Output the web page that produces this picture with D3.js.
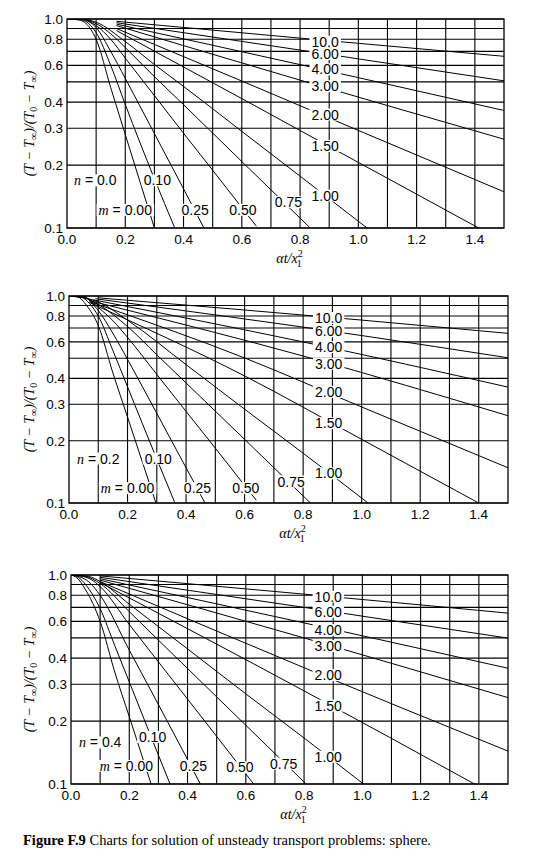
<!DOCTYPE html>
<html><head><meta charset="utf-8">
<script src="https://cdn.jsdelivr.net/npm/d3@7"></script>
<style>body{margin:0;background:#fff}</style></head>
<body><svg id="c" width="553" height="868"></svg>
<script>
const xTicks=[0,0.2,0.4,0.6,0.8,1.0,1.2,1.4];
const yTicks=[1.0,0.8,0.6,0.4,0.3,0.2,0.1];
const yGrid=[0.1,0.2,0.3,0.4,0.5,0.6,0.7,0.8,0.9,1.0];
const mValues=["0.00","0.10","0.25","0.50","0.75","1.00","1.50","2.00","3.00","4.00","6.00","10.0"];
const nValues=["0.0","0.2","0.4"];
// curves per panel: points [x,y] in the same order as mValues
const curvesN0=[
 [[0,1],[0.04,0.99],[0.08,0.9],[0.1,0.8],[0.15,0.47],[0.2,0.28],[0.3,0.1]],
 [[0,1],[0.05,0.99],[0.1,0.86],[0.15,0.6],[0.2,0.39],[0.3,0.172],[0.37,0.1]],
 [[0,1],[0.05,0.995],[0.1,0.91],[0.15,0.7],[0.2,0.52],[0.3,0.283],[0.4,0.154],[0.47,0.1]],
 [[0,1],[0.05,0.997],[0.1,0.93],[0.15,0.8],[0.2,0.65],[0.3,0.43],[0.4,0.284],[0.5,0.189],[0.65,0.102]],
 [[0,1],[0.05,0.998],[0.1,0.95],[0.15,0.85],[0.2,0.73],[0.3,0.53],[0.4,0.389],[0.6,0.208],[0.835,0.1]],
 [[0,1],[0.05,0.999],[0.1,0.965],[0.2,0.78],[0.3,0.606],[0.4,0.476],[0.6,0.29],[0.8,0.177],[1.03,0.1]],
 [[0.17,0.88],[0.6,0.416],[1.0,0.206],[1.413,0.1]],
 [[0.17,0.90],[0.6,0.505],[1.0,0.293],[1.5,0.149]],
 [[0.17,0.93],[0.8,0.51],[1.5,0.266]],
 [[0.17,0.945],[0.8,0.605],[1.5,0.365]],
 [[0.17,0.96],[0.8,0.71],[1.5,0.506]],
 [[0.17,0.975],[0.8,0.81],[1.5,0.663]]];
const curvesN02=[
 [[0,1],[0.03,0.99],[0.06,0.9],[0.1,0.72],[0.15,0.425],[0.2,0.26],[0.297,0.1]],
 [[0,1],[0.04,0.99],[0.07,0.92],[0.1,0.8],[0.15,0.545],[0.2,0.364],[0.3,0.163],[0.362,0.1]],
 [[0,1],[0.05,0.99],[0.1,0.85],[0.15,0.66],[0.2,0.494],[0.3,0.271],[0.4,0.148],[0.465,0.1]],
 [[0,1],[0.05,0.992],[0.1,0.88],[0.15,0.76],[0.2,0.631],[0.3,0.418],[0.4,0.277],[0.5,0.184],[0.64,0.103]],
 [[0,1],[0.06,0.97],[0.1,0.91],[0.2,0.712],[0.3,0.52],[0.4,0.38],[0.6,0.203],[0.825,0.1]],
 [[0,1],[0.06,0.975],[0.1,0.935],[0.2,0.764],[0.4,0.466],[0.6,0.284],[0.8,0.174],[1.022,0.1]],
 [[0.07,0.93],[0.6,0.411],[1.0,0.203],[1.4,0.1]],
 [[0.07,0.94],[0.6,0.502],[1.0,0.291],[1.5,0.148]],
 [[0.07,0.95],[0.8,0.513],[1.5,0.264]],
 [[0.08,0.96],[0.8,0.6],[1.5,0.363]],
 [[0.09,0.97],[1.0,0.644],[1.5,0.503]],
 [[0.1,0.98],[1.0,0.765],[1.5,0.66]]];
const curvesN04=[
 [[0,1],[0.02,0.97],[0.05,0.85],[0.1,0.6],[0.15,0.344],[0.2,0.21],[0.275,0.1]],
 [[0,1],[0.025,0.975],[0.05,0.9],[0.1,0.69],[0.15,0.46],[0.2,0.308],[0.3,0.1375],[0.34,0.1]],
 [[0,1],[0.03,0.98],[0.06,0.93],[0.1,0.8],[0.2,0.437],[0.3,0.24],[0.4,0.131],[0.444,0.1]],
 [[0,1],[0.04,0.985],[0.07,0.95],[0.1,0.88],[0.2,0.58],[0.3,0.384],[0.4,0.255],[0.5,0.169],[0.627,0.1]],
 [[0,1],[0.05,0.985],[0.1,0.91],[0.2,0.668],[0.3,0.488],[0.4,0.357],[0.6,0.191],[0.807,0.1]],
 [[0,1],[0.06,0.985],[0.1,0.93],[0.2,0.725],[0.4,0.443],[0.6,0.27],[0.8,0.166],[1.004,0.1]],
 [[0.1,0.92],[0.8,0.279],[1.385,0.1]],
 [[0.1,0.93],[0.8,0.36],[1.5,0.1437]],
 [[0.1,0.945],[0.8,0.5],[1.5,0.259]],
 [[0.1,0.96],[0.8,0.59],[1.5,0.358]],
 [[0.1,0.975],[0.8,0.70],[1.5,0.499]],
 [[0.1,0.99],[0.8,0.81],[1.5,0.657]]];
// label anchors [x,y] (data coords) in mValues order, then n-label
const labelsN0=[[0.20,0.122],[0.31,0.169],[0.44,0.122],[0.604,0.122],[0.76,0.133],[0.886,0.143],[0.886,0.247],[0.886,0.349],[0.886,0.477],[0.886,0.574],[0.886,0.68],[0.886,0.779],[0.097,0.169]];
const labelsN02=[[0.20,0.118],[0.305,0.164],[0.439,0.118],[0.604,0.118],[0.759,0.127],[0.887,0.139],[0.887,0.243],[0.887,0.344],[0.887,0.471],[0.887,0.567],[0.887,0.675],[0.887,0.783],[0.10,0.164]];
const labelsN04=[[0.19,0.122],[0.28,0.168],[0.42,0.122],[0.58,0.12],[0.73,0.125],[0.883,0.135],[0.883,0.237],[0.883,0.332],[0.883,0.457],[0.883,0.545],[0.883,0.667],[0.883,0.788],[0.10,0.158]];

const panels=[
 {n:nValues[0],curves:curvesN0,labels:labelsN0,l:67,r:504,t:19,b:228},
 {n:nValues[1],curves:curvesN02,labels:labelsN02,l:69,r:508,t:296,b:503},
 {n:nValues[2],curves:curvesN04,labels:labelsN04,l:71,r:508,t:575,b:784}];

const svg=d3.select("#c");
const sans="Liberation Sans, Arial, sans-serif", serif="Liberation Serif, Times New Roman, serif";
panels.forEach((p,pi)=>{
  const x=d3.scaleLinear().domain([0,1.5]).range([p.l,p.r]);
  const y=d3.scaleLog().domain([0.1,1]).range([p.b,p.t]);
  const g=svg.append("g");
  const cid="clip"+pi;
  svg.append("clipPath").attr("id",cid).append("rect").attr("x",p.l).attr("y",p.t).attr("width",p.r-p.l).attr("height",p.b-p.t);
  g.selectAll(".vg").data(d3.range(1,15).map(i=>i/10)).join("line").attr("x1",d=>x(d)).attr("x2",d=>x(d)).attr("y1",p.t).attr("y2",p.b).attr("stroke","#000").attr("stroke-width",1.1);
  g.selectAll(".hg").data(yGrid).join("line").attr("y1",d=>y(d)).attr("y2",d=>y(d)).attr("x1",p.l).attr("x2",p.r).attr("stroke","#000").attr("stroke-width",1.1);
  const line=d3.line().x(d=>x(d[0])).y(d=>y(d[1])).curve(d3.curveMonotoneX);
  g.append("g").attr("clip-path",`url(#${cid})`).selectAll("path").data(p.curves).join("path").attr("d",line).attr("fill","none").attr("stroke","#000").attr("stroke-width",1);
  const texts=mValues.map((m,i)=>({t:i==0?"m = 0.00":m,pos:p.labels[i]})).concat([{t:"n = "+p.n,pos:p.labels[12]}]);
  texts.forEach(o=>{
    const tg=g.append("g");
    const tx=tg.append("text").attr("x",x(o.pos[0])).attr("y",y(o.pos[1])+5).attr("text-anchor","middle").attr("font-family",sans).attr("font-size",14);
    const parts=o.t.split(" = ");
    if(parts.length==2){tx.append("tspan").attr("font-family",serif).attr("font-style","italic").text(parts[0]);tx.append("tspan").text(" = "+parts[1]);}
    else tx.text(o.t);
    const bb=tx.node().getBBox();
    tg.insert("rect","text").attr("x",bb.x-2).attr("y",bb.y+2).attr("width",bb.width+4).attr("height",bb.height-4).attr("fill","#fff");
  });
  g.append("rect").attr("x",p.l).attr("y",p.t).attr("width",p.r-p.l).attr("height",p.b-p.t).attr("fill","none").attr("stroke","#000").attr("stroke-width",1.3);
  g.selectAll(".xt").data(xTicks).join("text").attr("x",d=>x(d)).attr("y",p.b+16).attr("text-anchor","middle").attr("font-family",sans).attr("font-size",13.5).text(d=>d.toFixed(1));
  g.selectAll(".yt").data(yTicks).join("text").attr("x",p.l-4).attr("y",d=>y(d)+5).attr("text-anchor","end").attr("font-family",sans).attr("font-size",13.5).text(d=>d.toFixed(1));
  const xt=g.append("text").attr("x",(p.l+p.r)/2+4).attr("y",p.b+35).attr("text-anchor","middle").attr("font-family",serif).attr("font-style","italic").attr("font-size",14);
  xt.append("tspan").text("αt/x");
  xt.append("tspan").attr("font-size",10).attr("font-style","normal").attr("dy",-6).text("2");
  xt.append("tspan").attr("font-size",10).attr("font-style","normal").attr("dx",-6).attr("dy",10).text("1");
  const cy=(p.t+p.b)/2;
  const yt=g.append("text").attr("transform",`translate(34,${cy}) rotate(-90)`).attr("text-anchor","middle").attr("font-family",serif).attr("font-style","italic").attr("font-size",14);
  yt.append("tspan").text("(T − T");
  yt.append("tspan").attr("font-size",10).attr("dy",3).text("∞");
  yt.append("tspan").attr("dy",-3).text(")/(T");
  yt.append("tspan").attr("font-size",10).attr("font-style","normal").attr("dy",3).text("0");
  yt.append("tspan").attr("dy",-3).text(" − T");
  yt.append("tspan").attr("font-size",10).attr("dy",3).text("∞");
  yt.append("tspan").attr("dy",-3).text(")");
});
const cap=svg.append("text").attr("x",23).attr("y",845).attr("font-family",serif).attr("font-size",14.5);
cap.append("tspan").attr("font-weight","bold").text("Figure F.9");
cap.append("tspan").text("  Charts for solution of unsteady transport problems: sphere.");
</script></body></html>
